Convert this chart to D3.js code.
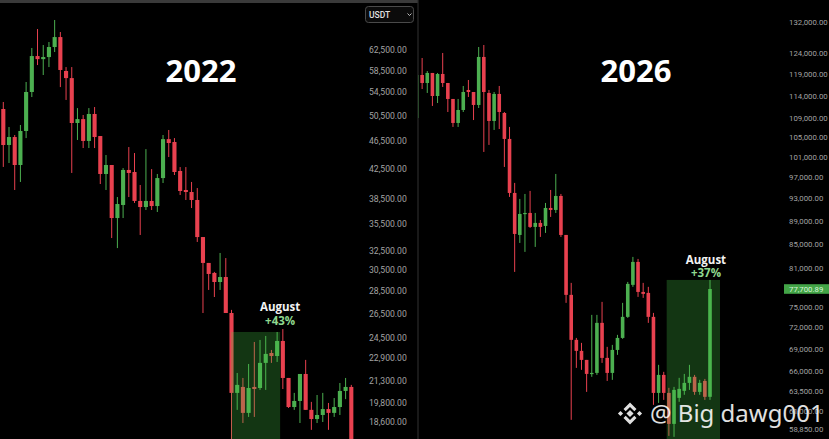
<!DOCTYPE html>
<html>
<head>
<meta charset="utf-8">
<script src="https://cdn.jsdelivr.net/npm/d3@7"></script>
<style>
    html, body { margin: 0; padding: 0; background: #000; }
    svg { display: block; }
</style>
</head>
<body>
<div id="chart"></div>
<script>
// weekly candles, [open, high, low, close]
const ohlc2022 = [
    [51570, 52760, 42700, 45860], [45865, 48630, 43250, 47070], [47070, 47380, 39610, 42970],
    [42970, 48950, 40660, 48005], [48005, 56310, 46910, 54510], [54510, 62910, 53620, 61280],
    [61280, 66920, 59510, 60670], [60670, 63520, 57610, 61080], [61080, 64150, 59120, 63110],
    [63110, 68920, 62090, 65190], [65190, 66270, 55390, 58560], [58370, 59120, 53110, 57035],
    [57035, 59120, 41870, 49270], [49270, 51725, 46620, 49900], [49900, 50570, 45410, 46470],
    [46470, 51725, 45410, 50740], [50740, 51900, 45410, 47070], [47220, 47220, 40390, 41730],
    [41730, 44390, 39610, 42970], [42970, 42970, 33870, 36150], [36150, 38710, 32780, 37840],
    [37720, 42540, 36150, 42280], [42280, 45560, 38710, 41870], [42000, 44680, 37970, 38220],
    [38220, 40260, 34210, 37470], [37470, 45250, 37110, 38220], [38220, 42400, 37110, 37590],
    [37590, 41730, 36870, 41180], [41180, 47380, 40520, 46750], [46750, 48160, 44100, 46160],
    [46315, 46910, 41590, 42000], [42140, 42680, 38970, 39480], [39610, 42680, 38340, 39350],
    [39350, 40660, 37350, 38340], [38340, 39860, 33440, 33980], [33980, 33980, 26530, 31230],
    [31230, 31230, 28600, 30130], [30230, 30330, 27950, 29350], [29350, 32260, 28600, 29830],
    [29830, 31730, 26530, 26530], [26530, 26800, 17000, 20450], [20450, 21820, 19350, 20990],
    [20850, 21470, 18540, 19160], [19160, 22470, 18910, 20780], [20850, 24140, 18910, 20710],
    [20780, 24300, 20650, 22550], [22550, 24620, 20650, 23220], [23290, 23520, 22550, 23060],
    [23060, 24940, 22620, 24220], [24220, 25180, 20710, 21470], [21470, 21470, 19470, 19530],
    [19530, 20450, 19350, 19920], [19920, 21750, 18540, 21750], [21750, 22770, 19350, 19350],
    [19350, 19860, 18130, 18780], [18780, 20310, 18540, 19030], [19030, 20450, 18600, 19400],
    [19400, 19790, 18130, 19160], [19160, 20110, 18910, 19530], [19530, 21120, 19030, 20580],
    [20580, 21470, 20040, 20850], [20850, 20990, 16900, 16980],
];
const ohlc2026 = [
    [109100, 119300, 108650, 118820], [118820, 122900, 115560, 116950], [116950, 119750, 114660, 119300],
    [119300, 119300, 111740, 113970], [113970, 119300, 112400, 119060], [119060, 124130, 116030, 116950],
    [116950, 116950, 110410, 113300], [113300, 113300, 107180, 108030], [108030, 113300, 107180, 110850],
    [110850, 116260, 110410, 114880], [115340, 117650, 113750, 114880], [114880, 114880, 108660, 111960],
    [111960, 125610, 111290, 123150], [123150, 126110, 101990, 114880], [114660, 115340, 103420, 108460],
    [108460, 114880, 106540, 114430], [114430, 116260, 106740, 110410], [110190, 110410, 99000, 104660],
    [104660, 107180, 93280, 94020], [94020, 95910, 80380, 86670], [86500, 92910, 85140, 90180],
    [90180, 93830, 83640, 90360], [90360, 94400, 87710, 87890], [87890, 90360, 84470, 88590],
    [88590, 89110, 86160, 87890], [88060, 92170, 86850, 91260], [91260, 94580, 89650, 90900],
    [90900, 97630, 90360, 93460], [93460, 93830, 86160, 86500], [86500, 86500, 75590, 76800],
    [76800, 78650, 59930, 70240], [70240, 70510, 66440, 68720], [68720, 69820, 66180, 67500],
    [67500, 67500, 63350, 65650], [65650, 73810, 65270, 65780], [65780, 73810, 65520, 72650],
    [72650, 75740, 67100, 67770], [67770, 69270, 64740, 65780], [65780, 69540, 64880, 68850],
    [68850, 70940, 68180, 70510], [70510, 75590, 70380, 73520], [73520, 78800, 73370, 78490],
    [78340, 82810, 78030, 81990], [81990, 82480, 76490, 77250], [77250, 78650, 76340, 76950],
    [77100, 78030, 72650, 73520], [73520, 74100, 61740, 63220], [63220, 66840, 61980, 65520],
    [65520, 65920, 62350, 63220], [63220, 63860, 58050, 59450], [59450, 63980, 57940, 63600],
    [62600, 65140, 62110, 63730], [63480, 65650, 62980, 64490], [64490, 66840, 63600, 65270],
    [65270, 65520, 62980, 63350], [63350, 64880, 62980, 64490], [64740, 65000, 62350, 62730],
    [62730, 79110, 62350, 77700.89],
];
const ticks2022 = [62500, 58500, 54500, 50500, 46500, 42500, 38500, 35500, 32500, 30500,
    28500, 26500, 24500, 22900, 21300, 19800, 18600];
const ticks2026 = [132000, 124000, 119000, 114000, 109000, 105000, 101000, 97000, 93000,
    89000, 85000, 81000, 75000, 72000, 69000, 66000, 63500, 61000, 58850];
const lastPrice2026 = 77700.89;
const augustRange2022 = [40, 48];
const augustRange2026 = [49, 57];
const augustGain2022 = '+43%';
const augustGain2026 = '+37%';

const W = 829;
const H = 439;
const UP = '#4caf50';
const DOWN = '#e8414f';
const priceFormat = d3.format(',.2f');

class CandlePanel {
    constructor({ svg, id, data, ticks, august, setting }) {
        this.svg = svg;
        this.id = id;
        this.data = data;
        this.ticks = ticks;
        this.august = august;
        this.setting = setting;
        this.init();
    }
    scaleInit() {
        const { centers, yDomain, yRange } = this.setting;
        this.x = d3.scalePoint().domain(d3.range(this.data.length)).range(centers);
        this.y = d3.scaleLog().domain(yDomain).range(yRange);
        this.bodyW = this.x.step() * this.setting.bodyRatio;
    }
    clipInit() {
        const [l, r] = this.setting.clip;
        this.svg.append('defs').append('clipPath').attr('id', `clip-${this.id}`)
            .append('rect').attr('x', l).attr('y', 0).attr('width', r - l).attr('height', H);
        this.plot = this.svg.append('g').attr('clip-path', `url(#clip-${this.id})`);
    }
    candleCreate() {
        const { x, y, bodyW } = this;
        const g = this.plot.append('g').selectAll('g').data(this.data).join('g')
            .attr('fill', (d) => (d[3] >= d[0] ? UP : DOWN))
            .attr('stroke', (d) => (d[3] >= d[0] ? UP : DOWN));
        g.append('line')
            .attr('x1', (d, i) => x(i)).attr('x2', (d, i) => x(i))
            .attr('y1', (d) => y(d[1])).attr('y2', (d) => y(d[2]))
            .attr('stroke-width', 1);
        g.append('rect')
            .attr('x', (d, i) => x(i) - bodyW / 2)
            .attr('width', bodyW)
            .attr('y', (d) => y(Math.max(d[0], d[3])))
            .attr('height', (d) => Math.max(1.2, Math.abs(y(d[0]) - y(d[3]))))
            .attr('stroke', 'none');
    }
    augustCreate() {
        const { x, y } = this;
        const { range, gain, padL, padR, labelDx, labelDy } = this.august;
        // the box starts at the high of the month's last candle
        const top = this.data[range[1]][1];
        const x0 = x(range[0]) - padL;
        const x1 = x(range[1]) + padR;
        this.plot.append('rect')
            .attr('x', x0).attr('y', y(top))
            .attr('width', x1 - x0).attr('height', H - y(top))
            .attr('fill', 'rgb(70,200,70)').attr('opacity', 0.27);
        const lx = x(range[1]) + labelDx;
        const ly = y(top) - labelDy;
        const t = this.svg.append('g').attr('font-family', '"Open Sans", sans-serif')
            .attr('font-weight', 700).attr('text-anchor', 'middle').attr('font-size', 11.5);
        t.append('text').attr('x', lx).attr('y', ly - 13.5).attr('fill', '#f2f2f2').text('August');
        t.append('text').attr('x', lx).attr('y', ly).attr('fill', '#8fd88f').text(gain);
    }
    axisCreate() {
        const { axisX, axisFont } = this.setting;
        const g = this.svg.append('g').attr('transform', `translate(${axisX},0)`)
            .call(d3.axisRight(this.y).tickValues(this.ticks).tickFormat(priceFormat)
                .tickSize(0).tickPadding(0));
        g.select('.domain').remove();
        g.selectAll('text').attr('fill', '#a3a3a3')
            .attr('font-family', 'Roboto, sans-serif').attr('font-size', axisFont);
        this.axis = g;
    }
    titleCreate() {
        const { title, titleX } = this.setting;
        this.svg.append('text').attr('x', titleX).attr('y', 82)
            .attr('text-anchor', 'middle').attr('fill', '#ffffff')
            .attr('font-family', '"Open Sans", sans-serif').attr('font-weight', 700)
            .attr('font-size', 31).text(title);
    }
    init() {
        this.scaleInit();
        this.clipInit();
        this.candleCreate();
        this.augustCreate();
        this.axisCreate();
        this.titleCreate();
    }
}

const svg = d3.select('#chart').append('svg')
    .attr('width', W).attr('height', H)
    .style('background', '#000');

svg.append('rect').attr('x', 0).attr('y', 0).attr('width', 418).attr('height', 3).attr('fill', '#3a3a3a');
svg.append('line').attr('x1', 418).attr('x2', 418).attr('y1', 0).attr('y2', H)
    .attr('stroke', '#2b2b2b').attr('stroke-width', 1.2);

const left = new CandlePanel({
    svg, id: 'y2022', data: ohlc2022, ticks: ticks2022,
    august: { range: augustRange2022, gain: augustGain2022, padL: 0.3, padR: 3, labelDx: 3, labelDy: 7 },
    setting: {
        centers: [3.3, 351.3], yDomain: [18600, 62500], yRange: [422, 50],
        bodyRatio: 0.72, clip: [0, 360], axisX: 369, axisFont: 8.6,
        title: '2022', titleX: 201,
    },
});

const right = new CandlePanel({
    svg, id: 'y2026', data: ohlc2026, ticks: ticks2026,
    august: { range: augustRange2026, gain: augustGain2026, padL: 2.2, padR: 10, labelDx: -4, labelDy: 2.5 },
    setting: {
        centers: [417, 710], yDomain: [58850, 132000], yRange: [429, 22],
        bodyRatio: 0.7, clip: [418.6, 782], axisX: 789, axisFont: 7.8,
        title: '2026', titleX: 636,
    },
});

// last price badge
const badgeY = right.y(lastPrice2026);
svg.append('rect').attr('x', 784).attr('y', badgeY - 4.8).attr('width', 46).attr('height', 9.6)
    .attr('fill', '#43a447');
svg.append('text').attr('x', 789).attr('y', badgeY).attr('dy', '0.34em')
    .attr('fill', '#d8f5d8').attr('font-family', 'Roboto, sans-serif').attr('font-size', 7.8)
    .text(priceFormat(lastPrice2026));

// currency selector
const sel = svg.append('g');
sel.append('rect').attr('x', 365.5).attr('y', 6.5).attr('width', 48).attr('height', 16).attr('rx', 3)
    .attr('fill', '#0b0b0b').attr('stroke', '#4a4a4a');
sel.append('text').attr('x', 369).attr('y', 18).attr('fill', '#e0e0e0')
    .attr('font-family', 'Roboto, sans-serif').attr('font-size', 8.5).attr('font-weight', 500).text('USDT');
sel.append('path').attr('d', 'M407.5,13.5 L409.5,15.5 L411.5,13.5')
    .attr('fill', 'none').attr('stroke', '#bbbbbb').attr('stroke-width', 1);

// watermark
const wm = svg.append('g').attr('opacity', 0.88).attr('fill', '#ffffff');
const logo = wm.append('g').attr('transform', 'translate(630,413.5)');
const diamond = (cx, cy, r) => `M${cx},${cy - r}L${cx + r},${cy}L${cx},${cy + r}L${cx - r},${cy}Z`;
logo.append('path').attr('d', diamond(0, 0, 3.6));
logo.append('path').attr('d', diamond(-9.5, 0, 2.6));
logo.append('path').attr('d', diamond(9.5, 0, 2.6));
logo.append('path').attr('d', 'M-6.5,-4.5L0,-11L6.5,-4.5L4.3,-2.3L0,-6.6L-4.3,-2.3Z');
logo.append('path').attr('d', 'M-6.5,4.5L0,11L6.5,4.5L4.3,2.3L0,6.6L-4.3,2.3Z');
wm.append('text').attr('x', 650).attr('y', 422)
    .attr('font-family', '"Noto Sans", sans-serif').attr('font-size', 24)
    .text('@ Big dawg001');
</script>
</body>
</html>
